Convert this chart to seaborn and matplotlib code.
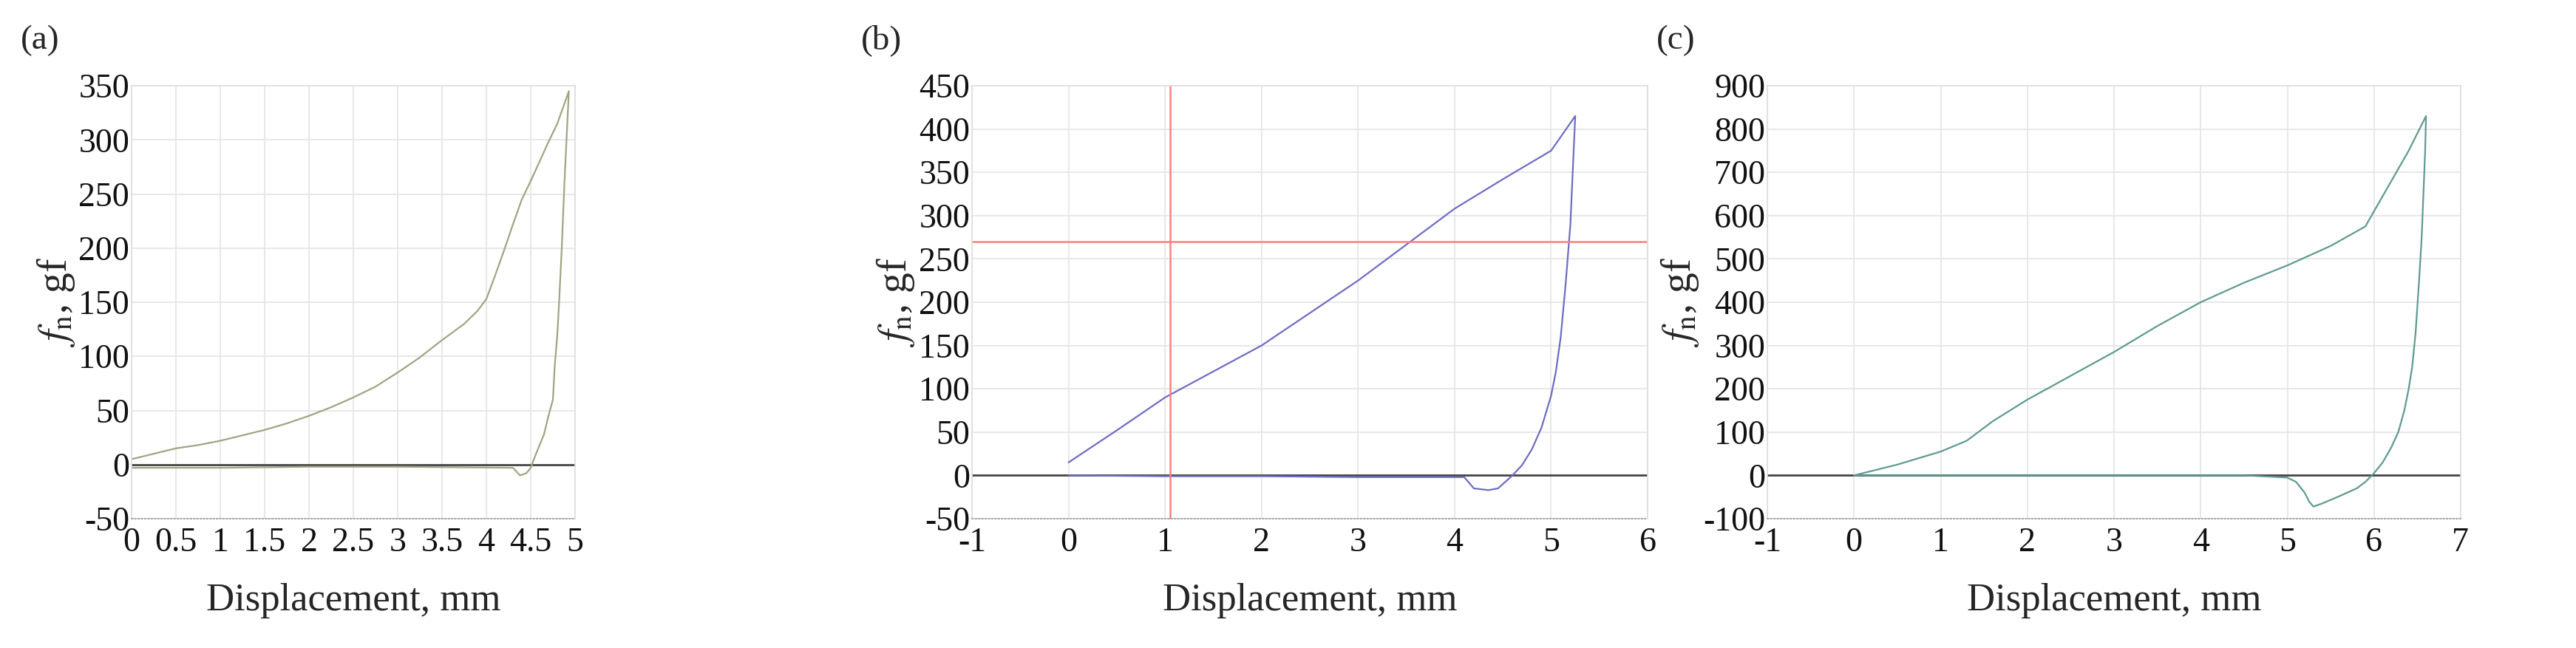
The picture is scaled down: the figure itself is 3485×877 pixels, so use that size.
import matplotlib
matplotlib.use("Agg")
import matplotlib.pyplot as plt
import seaborn as sns
import pandas as pd

sns.set_theme(style="white")
plt.rcParams['font.family'] = ['Liberation Serif', 'DejaVu Serif']
plt.rcParams['mathtext.fontset'] = 'stix'
plt.rcParams['axes.unicode_minus'] = False

# Panel (a)
a_x = [0, 0.25, 0.5, 0.75, 1, 1.25, 1.5, 1.75, 2, 2.25, 2.5, 2.75, 3, 3.25, 3.5, 3.75, 3.9, 4.0,
       4.1, 4.2, 4.3, 4.4, 4.5, 4.6, 4.7, 4.8, 4.93,
       4.88, 4.85, 4.82, 4.8, 4.77, 4.75, 4.7, 4.65, 4.6, 4.55, 4.5, 4.45, 4.38, 4.3, 3.0, 2.0, 1.0, 0]
a_y = [5, 10, 15, 18, 22, 27, 32, 38, 45, 53, 62, 72, 85, 99, 115, 130, 142, 153,
       175, 198, 222, 245, 262, 280, 298, 315, 345,
       260, 200, 150, 120, 90, 60, 45, 28, 18, 8, -3, -8, -10, -3, -2, -2, -3, -3]
# Panel (b)
b_x = [0, 0.5, 1, 2, 3, 4, 4.5, 5, 5.25,
       5.22, 5.2, 5.15, 5.1, 5.05, 5.0, 4.9, 4.8, 4.7, 4.6, 4.45, 4.35, 4.2, 4.1, 3.0, 2.0, 1.0, 0]
b_y = [15, 52, 90, 150, 225, 308, 342, 375, 415,
       340, 290, 220, 160, 120, 92, 55, 30, 12, 0, -15, -17, -15, -2, -2, -1, -1, 0]
# Panel (c)
c_x = [0, 0.5, 1, 1.3, 1.6, 2, 2.5, 3, 3.5, 4, 4.5, 5, 5.5, 5.9, 6.2, 6.4, 6.6,
       6.59, 6.57, 6.55, 6.52, 6.48, 6.44, 6.4, 6.35, 6.28, 6.2, 6.1, 6.0, 5.9, 5.8, 5.6, 5.4, 5.3,
       5.25, 5.2, 5.1, 5.0, 4.5, 3.0, 0]
c_y = [0, 25, 55, 80, 125, 175, 230, 285, 345, 400, 445, 485, 530, 575, 680, 750, 830,
       750, 650, 550, 450, 330, 250, 200, 150, 100, 65, 30, 5, -15, -30, -48, -65, -72,
       -60, -40, -15, -5, 0, 0, 0]

panels = [
    dict(x=a_x, y=a_y, color='#a3a383', xlim=(0, 5), ylim=(-50, 350),
         xt=[0, 0.5, 1, 1.5, 2, 2.5, 3, 3.5, 4, 4.5, 5], xtl=['0', '0.5', '1', '1.5', '2', '2.5', '3', '3.5', '4', '4.5', '5'],
         yt=list(range(-50, 351, 50)), lab='(a)', pos=(178, 778)),
    dict(x=b_x, y=b_y, color='#6d6dc4', xlim=(-1, 6), ylim=(-50, 450),
         xt=list(range(-1, 7)), xtl=[str(v) for v in range(-1, 7)],
         yt=list(range(-50, 451, 50)), lab='(b)', pos=(1315, 2229)),
    dict(x=c_x, y=c_y, color='#5f9a92', xlim=(-1, 7), ylim=(-100, 900),
         xt=list(range(-1, 8)), xtl=[str(v) for v in range(-1, 8)],
         yt=list(range(-100, 901, 100)), lab='(c)', pos=(2391, 3329)),
]

W, H = 3485, 877
fig = plt.figure(figsize=(W / 100, H / 100), dpi=100)
top, bot = 116, 702
for i, p in enumerate(panels):
    l, r = p['pos']
    ax = fig.add_axes([l / W, 1 - bot / H, (r - l) / W, (bot - top) / H])
    df = pd.DataFrame({'x': p['x'], 'y': p['y']})
    sns.lineplot(data=df, x='x', y='y', sort=False, estimator=None, ax=ax,
                 color=p['color'], lw=1.6)
    ax.axhline(0, color='#444444', lw=2, zorder=1)
    if i == 1:
        ax.axvline(1.05, color='#ff8080', lw=1.8)
        ax.axhline(270, color='#ff8080', lw=1.8)
    ax.set_xlim(*p['xlim'])
    ax.set_ylim(*p['ylim'])
    ax.set_xticks(p['xt'])
    ax.set_xticklabels(p['xtl'])
    ax.set_yticks(p['yt'])
    ax.grid(True, color='#e4e4e4', lw=1.2)
    for s in ax.spines.values():
        s.set_color('#dddddd')
        s.set_linewidth(1.2)
    ax.spines['bottom'].set_linestyle(':')
    ax.spines['bottom'].set_color('#999999')
    ax.tick_params(axis='y', labelsize=33, colors='#111111', length=0, pad=2)
    ax.tick_params(axis='x', labelsize=33, colors='#111111', length=0, pad=8)
    ax.set_xlabel('Displacement, mm', fontsize=38, labelpad=24)
    ax.set_ylabel(r'$\mathit{f}_{\mathrm{n}}$, gf', fontsize=40, labelpad=2)
    fig.text((l - 150) / W, 1 - 55 / H, p['lab'], fontsize=34, va='center')

fig.savefig('out.png', dpi=100, facecolor='white')
